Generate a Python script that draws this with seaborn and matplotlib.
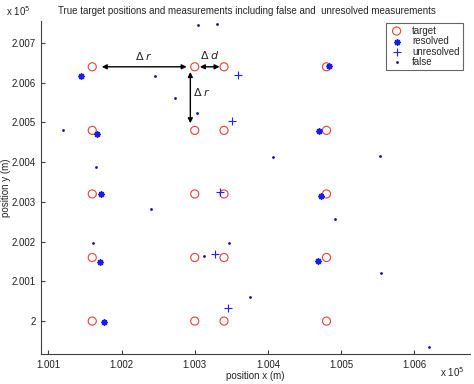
import numpy as np
import pandas as pd
import seaborn as sns
from matplotlib import pyplot as plt
from matplotlib.ticker import FuncFormatter, MultipleLocator

# true target grid (m)
target_x = [100160, 100300, 100340, 100480]
target_y = [200640, 200480, 200320, 200160, 200000]

# resolved measurements
resolved_x = [100145, 100484, 100166, 100172, 100170, 100176, 100470, 100472, 100468]
resolved_y = [200617, 200641, 200471, 200320, 200149, 199997, 200478, 200314, 200152]

# unresolved measurements
unresolved_x = [100359, 100351, 100335, 100328, 100345]
unresolved_y = [200619, 200504, 200325, 200170, 200033]

# false measurements
false_x = [100304, 100330, 100246, 100273, 100303, 100120, 100165, 100240, 100161,
           100313, 100347, 100407, 100553, 100492, 100554, 100375, 100620]
false_y = [200744, 200747, 200617, 200561, 200524, 200481, 200387, 200282, 200196,
           200164, 200197, 200414, 200416, 200258, 200121, 200061, 199935]


def pre_config():
    sns.set_style('white')
    plt.rcParams.update({
        'font.family': ['Liberation Sans', 'DejaVu Sans'],
        'font.size': 7,
        'xtick.direction': 'in',
        'ytick.direction': 'in',
        'xtick.bottom': True,
        'ytick.left': True,
        'xtick.major.size': 3,
        'ytick.major.size': 3,
        'axes.edgecolor': '#404040',
        'axes.linewidth': 0.8,
    })


def main():
    pre_config()
    fig = plt.figure(figsize=(4.74, 3.84), dpi=100)
    ax = fig.add_axes([0.0865, 0.078, 0.905, 0.867])

    tx, ty = np.meshgrid(target_x, target_y)
    df_t = pd.DataFrame({'x': tx.ravel(), 'y': ty.ravel()})
    sns.scatterplot(data=df_t, x='x', y='y', marker='o', s=34, facecolors='none',
                    edgecolor='#e8403a', linewidth=0.8, label='target', ax=ax)
    sns.scatterplot(x=resolved_x, y=resolved_y, marker=(8, 2, 0), s=14, color='#1a1aff',
                    linewidth=1.2, label='resolved', ax=ax)
    sns.scatterplot(x=unresolved_x, y=unresolved_y, marker='+', s=32, color='#2020ff',
                    linewidth=0.8, label='unresolved', ax=ax)
    sns.scatterplot(x=false_x, y=false_y, marker='o', s=4, color='#12129a',
                    linewidth=0, label='false', ax=ax)

    # spacing annotations
    arrow = dict(arrowstyle='<|-|>', color='black', lw=1.0, mutation_scale=7, shrinkA=0, shrinkB=0)
    ax.annotate('', xy=(target_x[0] + 13, target_y[0]), xytext=(target_x[1] - 11, target_y[0]),
                arrowprops=arrow)
    ax.annotate('', xy=(target_x[1] + 7, target_y[0]), xytext=(target_x[2] - 6, target_y[0]),
                arrowprops=arrow)
    ax.annotate('', xy=(target_x[1] - 6, target_y[0] - 13), xytext=(target_x[1] - 6, target_y[1] + 18),
                arrowprops=arrow)
    ax.text((target_x[0] + target_x[1]) / 2, target_y[0] + 26, r'$\Delta$ $r$', ha='center',
            va='center', fontsize=8)
    ax.text((target_x[1] + target_x[2]) / 2 + 1, target_y[0] + 30, r'$\Delta$ $d$', ha='center',
            va='center', fontsize=8)
    ax.text(target_x[1] + 10, (target_y[0] + target_y[1]) / 2 + 16, r'$\Delta$ $r$', ha='center',
            va='center', fontsize=8)

    ax.set_xlim(100090, 100676)
    ax.set_ylim(199917, 200755)
    ax.xaxis.set_major_locator(MultipleLocator(100))
    ax.yaxis.set_major_locator(MultipleLocator(100))
    fmt = FuncFormatter(lambda v, p: '%g' % round(v / 1e5, 6))
    ax.xaxis.set_major_formatter(fmt)
    ax.yaxis.set_major_formatter(fmt)
    ax.tick_params(length=3, width=0.8, colors='#404040', labelcolor='#202020', pad=4)
    sns.despine(ax=ax)

    ax.set_xlabel('position x (m)', labelpad=1)
    ax.set_ylabel('position y (m)')
    ax.yaxis.set_label_coords(-0.071, 0.5)
    fig.text(0.52, 0.972, 'True target positions and measurements including false and  unresolved measurements',
             ha='center', va='center', fontsize=7)
    fig.text(0.012, 0.972, r'x 10$^5$', ha='left', va='center', fontsize=7)
    fig.text(0.928, 0.03, r'x 10$^5$', ha='left', va='center', fontsize=7)

    leg = ax.legend(loc='upper right', bbox_to_anchor=(0.994, 1.01), frameon=True, fancybox=False,
                    borderpad=0.3, labelspacing=0.05, handletextpad=0.8, handlelength=1.6,
                    edgecolor='#404040', fontsize=7)
    leg.get_frame().set_linewidth(0.8)

    fig.savefig('out.png', dpi=100)


if __name__ == '__main__':
    main()
